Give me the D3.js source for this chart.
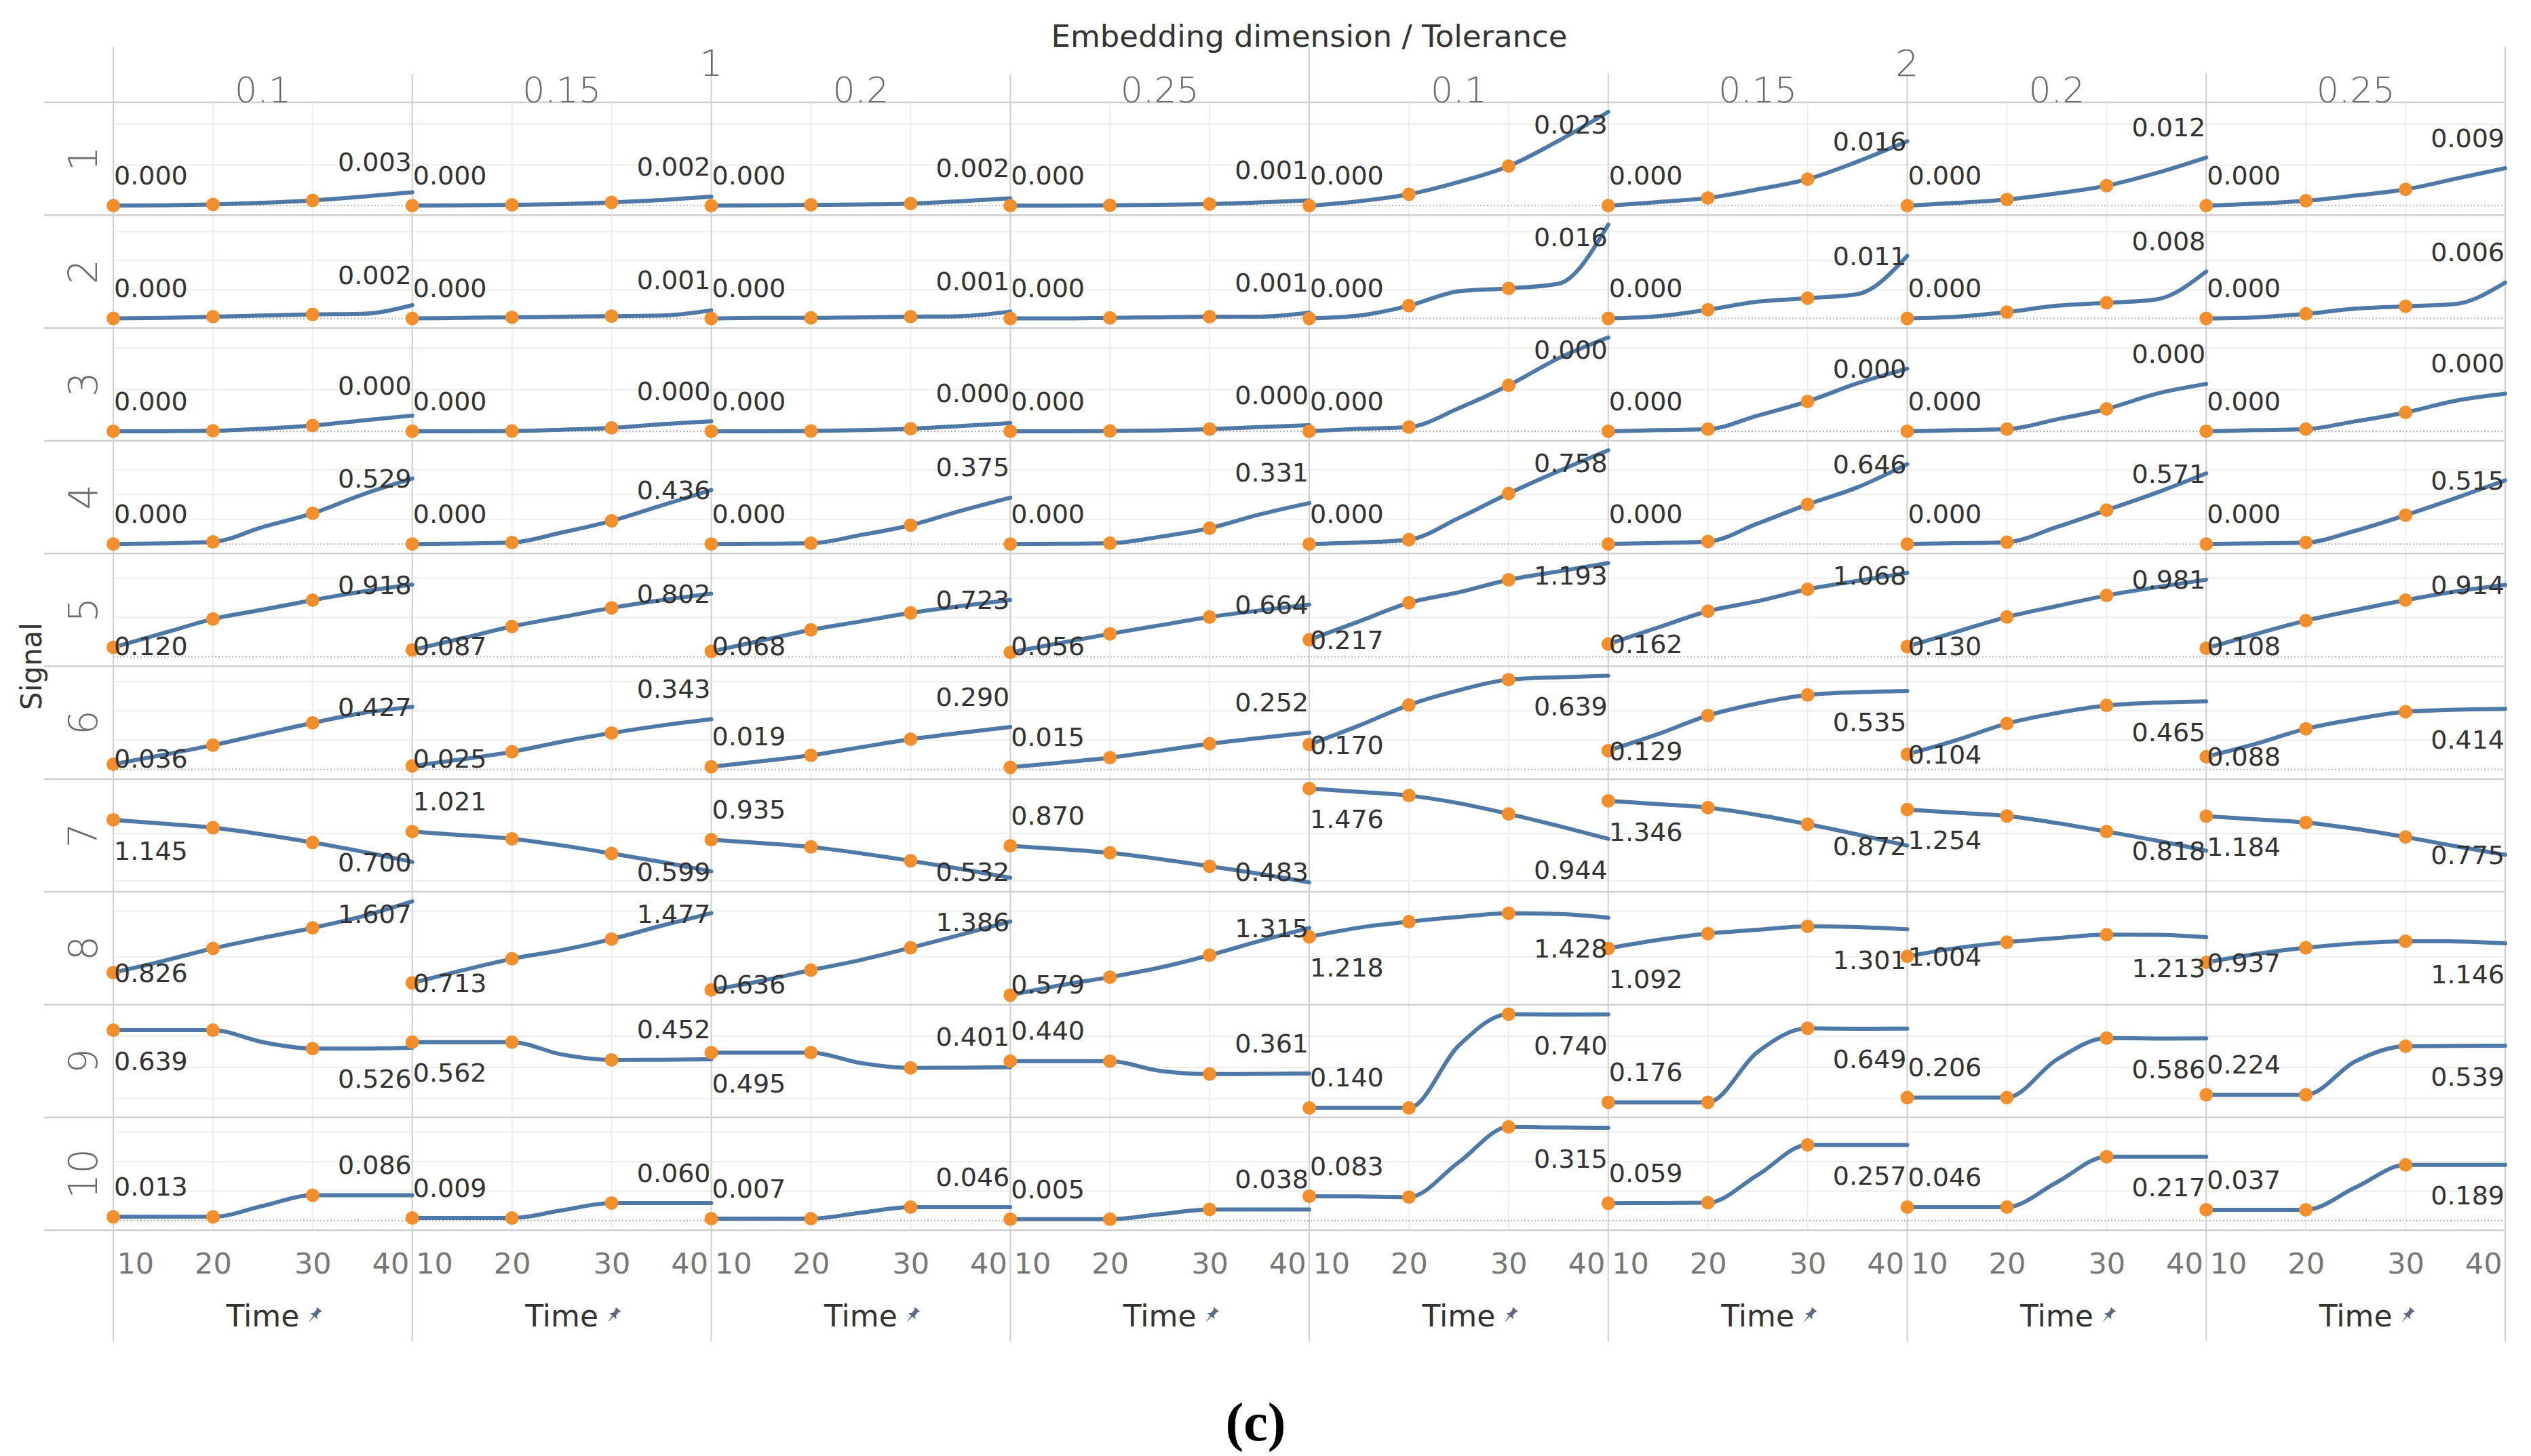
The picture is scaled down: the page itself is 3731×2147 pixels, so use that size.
<!DOCTYPE html>
<html>
<head>
<meta charset="utf-8">
<script src="https://cdn.jsdelivr.net/npm/d3@7"></script>
<style>
  html, body { margin: 0; padding: 0; background: #fff; }
  svg { display: block; }
</style>
</head>
<body>
<svg id="chart"></svg>
<script>
// Columns: embedding dimension x tolerance, rows: signal
const dims = ["1", "2"];
const tolerances = ["0.1", "0.15", "0.2", "0.25"];
const signals = ["1", "2", "3", "4", "5", "6", "7", "8", "9", "10"];
const times = [10, 15, 20, 25, 30, 35, 40];
const markedTimes = [10, 20, 30];
const timeTicks = [10, 20, 30, 40];

// one list per signal, 8 panels (dim 1: tol 0.1..0.25, dim 2: tol 0.1..0.25), values at each time
const signal1 = [
  [0, 0.0001, 0.0003, 0.0007, 0.0013, 0.0022, 0.0033],
  [0, 0.0001, 0.0002, 0.0004, 0.0008, 0.0014, 0.0022],
  [0, 0.0001, 0.0002, 0.0003, 0.0005, 0.0011, 0.0018],
  [0, 0, 0.0001, 0.0002, 0.0004, 0.0008, 0.0013],
  [0, 0.0011, 0.0028, 0.0058, 0.0097, 0.0159, 0.0230],
  [0, 0.0009, 0.0019, 0.0040, 0.0065, 0.0108, 0.0158],
  [0, 0.0007, 0.0015, 0.0030, 0.0049, 0.0080, 0.0118],
  [0, 0.0005, 0.0012, 0.0025, 0.0040, 0.0066, 0.0092]
];
const signal2 = [
  [0, 0.0001, 0.0003, 0.0005, 0.0007, 0.0008, 0.0023],
  [0, 0.0001, 0.0002, 0.0003, 0.0004, 0.0005, 0.0014],
  [0, 0.0001, 0.0001, 0.0002, 0.0003, 0.0004, 0.0012],
  [0, 0, 0.0001, 0.0002, 0.0003, 0.0003, 0.0010],
  [0, 0.0005, 0.0022, 0.0047, 0.0052, 0.0060, 0.0162],
  [0, 0.0004, 0.0015, 0.0029, 0.0035, 0.0042, 0.0108],
  [0, 0.0003, 0.0011, 0.0022, 0.0027, 0.0033, 0.0081],
  [0, 0.0002, 0.0008, 0.0017, 0.0021, 0.0025, 0.0062]
];
const signal3 = [
  [0, 0, 0.000002, 0.000012, 0.000027, 0.000052, 0.000075],
  [0, 0, 0.000001, 0.000007, 0.000016, 0.000034, 0.000048],
  [0, 0, 0.000001, 0.000005, 0.000012, 0.000025, 0.000039],
  [0, 0, 0.000001, 0.000004, 0.000010, 0.000020, 0.000029],
  [0, 0.000012, 0.000020, 0.000110, 0.000220, 0.000350, 0.000450],
  [0, 0.000005, 0.000010, 0.000075, 0.000143, 0.000230, 0.000300],
  [0, 0.000005, 0.000010, 0.000057, 0.000107, 0.000180, 0.000227],
  [0, 0.000005, 0.000010, 0.000048, 0.000090, 0.000146, 0.000180]
];
const signal4 = [
  [0, 0.005, 0.017, 0.137, 0.248, 0.400, 0.529],
  [0, 0.004, 0.012, 0.093, 0.187, 0.312, 0.436],
  [0, 0.002, 0.006, 0.073, 0.152, 0.268, 0.375],
  [0, 0.002, 0.006, 0.058, 0.128, 0.239, 0.331],
  [0, 0.012, 0.035, 0.210, 0.408, 0.589, 0.758],
  [0, 0.008, 0.020, 0.166, 0.320, 0.458, 0.646],
  [0, 0.006, 0.015, 0.137, 0.274, 0.414, 0.571],
  [0, 0.005, 0.012, 0.108, 0.233, 0.370, 0.515]
];
const signal5 = [
  [0.120, 0.300, 0.480, 0.600, 0.720, 0.830, 0.918],
  [0.087, 0.235, 0.386, 0.505, 0.622, 0.720, 0.802],
  [0.068, 0.205, 0.343, 0.450, 0.558, 0.645, 0.723],
  [0.056, 0.175, 0.292, 0.400, 0.506, 0.590, 0.664],
  [0.217, 0.450, 0.687, 0.820, 0.979, 1.086, 1.193],
  [0.162, 0.373, 0.580, 0.708, 0.858, 0.966, 1.068],
  [0.130, 0.320, 0.506, 0.645, 0.780, 0.885, 0.981],
  [0.108, 0.290, 0.460, 0.595, 0.720, 0.830, 0.914]
];
const signal6 = [
  [0.036, 0.100, 0.166, 0.242, 0.318, 0.385, 0.427],
  [0.025, 0.070, 0.121, 0.190, 0.249, 0.300, 0.343],
  [0.019, 0.057, 0.097, 0.152, 0.207, 0.250, 0.290],
  [0.015, 0.047, 0.081, 0.128, 0.176, 0.215, 0.252],
  [0.170, 0.300, 0.440, 0.540, 0.613, 0.629, 0.639],
  [0.129, 0.242, 0.368, 0.451, 0.508, 0.527, 0.535],
  [0.104, 0.202, 0.314, 0.385, 0.437, 0.456, 0.465],
  [0.088, 0.176, 0.278, 0.344, 0.394, 0.408, 0.414]
];
const signal7 = [
  [1.145, 1.104, 1.061, 0.990, 0.905, 0.808, 0.700],
  [1.021, 0.983, 0.944, 0.874, 0.789, 0.699, 0.599],
  [0.935, 0.898, 0.858, 0.790, 0.711, 0.625, 0.532],
  [0.870, 0.835, 0.796, 0.730, 0.653, 0.574, 0.483],
  [1.476, 1.441, 1.402, 1.321, 1.208, 1.080, 0.944],
  [1.346, 1.312, 1.274, 1.196, 1.099, 0.990, 0.872],
  [1.254, 1.220, 1.185, 1.111, 1.021, 0.925, 0.818],
  [1.184, 1.150, 1.115, 1.049, 0.963, 0.866, 0.775]
];
const signal8 = [
  [0.826, 0.953, 1.091, 1.207, 1.316, 1.443, 1.607],
  [0.713, 0.850, 0.977, 1.073, 1.193, 1.340, 1.477],
  [0.636, 0.734, 0.853, 0.964, 1.098, 1.240, 1.386],
  [0.579, 0.687, 0.776, 0.881, 1.017, 1.172, 1.315],
  [1.218, 1.319, 1.384, 1.436, 1.476, 1.468, 1.428],
  [1.092, 1.184, 1.253, 1.295, 1.333, 1.325, 1.301],
  [1.004, 1.096, 1.159, 1.205, 1.242, 1.240, 1.213],
  [0.937, 1.030, 1.098, 1.146, 1.170, 1.168, 1.146]
];
const signal9 = [
  [0.639, 0.639, 0.639, 0.562, 0.521, 0.521, 0.526],
  [0.562, 0.562, 0.562, 0.483, 0.448, 0.449, 0.452],
  [0.495, 0.495, 0.495, 0.428, 0.397, 0.398, 0.401],
  [0.440, 0.440, 0.440, 0.378, 0.357, 0.358, 0.361],
  [0.140, 0.140, 0.140, 0.540, 0.742, 0.739, 0.740],
  [0.176, 0.176, 0.176, 0.500, 0.651, 0.648, 0.649],
  [0.206, 0.206, 0.206, 0.450, 0.588, 0.585, 0.586],
  [0.224, 0.224, 0.224, 0.440, 0.536, 0.538, 0.539]
];
const signal10 = [
  [0.013, 0.013, 0.013, 0.050, 0.086, 0.086, 0.086],
  [0.009, 0.009, 0.009, 0.035, 0.060, 0.060, 0.060],
  [0.007, 0.007, 0.007, 0.027, 0.046, 0.046, 0.046],
  [0.005, 0.005, 0.005, 0.022, 0.038, 0.038, 0.038],
  [0.083, 0.082, 0.080, 0.198, 0.318, 0.316, 0.315],
  [0.059, 0.060, 0.061, 0.155, 0.257, 0.257, 0.257],
  [0.046, 0.046, 0.046, 0.130, 0.217, 0.217, 0.217],
  [0.037, 0.037, 0.037, 0.113, 0.189, 0.189, 0.189]
];
const signalValues = [signal1, signal2, signal3, signal4, signal5, signal6, signal7, signal8, signal9, signal10];

// ---- layout
const width = 3731, height = 2147;
const gridLeft = 167, gridRight = 3693, gridTop = 151, gridBottom = 1814;
const lineColor = "#4e79a7", dotColor = "#f28e2b";
const sepColor = "#cfcfcf", gridColor = "#ededed";
const font = "'DejaVu Sans', Verdana, sans-serif";

const svg = d3.select("#chart").attr("width", width).attr("height", height)
  .style("font-family", font);

const panels = dims.flatMap(d => tolerances.map(t => ({dim: d, tol: t})));
const colScale = d3.scaleBand().domain(d3.range(panels.length)).range([gridLeft, gridRight]);
const rowScale = d3.scaleBand().domain(signals).range([gridTop, gridBottom]);
const bw = colScale.bandwidth(), bh = rowScale.bandwidth();

const gridG = svg.append("g");
const sepG = svg.append("g");
const markG = svg.append("g");
const labelG = svg.append("g");

// vertical gridlines at t = 20, 30 in every pane
panels.forEach((p, j) => {
  const xs = d3.scaleLinear().domain([10, 40]).range([colScale(j), colScale(j) + bw]);
  gridG.selectAll(null).data([20, 30]).enter().append("line")
    .attr("x1", d => xs(d)).attr("x2", d => xs(d))
    .attr("y1", gridTop).attr("y2", gridBottom)
    .attr("stroke", gridColor).attr("stroke-width", 2);
});

// separators
sepG.selectAll(null).data(d3.range(signals.length + 1)).enter().append("line")
  .attr("x1", 65).attr("x2", gridRight)
  .attr("y1", i => gridTop + i * bh).attr("y2", i => gridTop + i * bh)
  .attr("stroke", sepColor).attr("stroke-width", 2.5);
sepG.selectAll(null).data(d3.range(panels.length + 1)).enter().append("line")
  .attr("x1", j => gridLeft + j * bw).attr("x2", j => gridLeft + j * bw)
  .attr("y1", j => (j % 4 === 0) ? 69 : 109).attr("y2", 1978)
  .attr("stroke", sepColor).attr("stroke-width", 2);

const fmt = d3.format(".3f");

signals.forEach((s, i) => {
  const rowTop = rowScale(s), rowBottom = rowTop + bh;
  const rowVals = signalValues[i].flat();
  let lo = d3.min(rowVals);
  const hi = d3.max(rowVals);
  if (lo < 0.1) lo = 0;
  const y = d3.scaleLinear().domain([lo, hi]).range([rowBottom - 14, rowTop + 14]);

  // faint horizontal gridlines
  const ticks = y.ticks(3).filter(v => v !== 0 && v >= lo && v <= hi * 1.04);
  gridG.selectAll(null).data(ticks).enter().append("line")
    .attr("x1", gridLeft).attr("x2", gridRight)
    .attr("y1", d => y(d)).attr("y2", d => y(d))
    .attr("stroke", gridColor).attr("stroke-width", 2);
  if (lo === 0) {
    gridG.append("line")
      .attr("x1", gridLeft).attr("x2", gridRight)
      .attr("y1", y(0)).attr("y2", y(0))
      .attr("stroke", "#b5b5b5").attr("stroke-width", 2)
      .attr("stroke-dasharray", "2,3");
  }

  // row header
  labelG.append("text")
    .attr("transform", `translate(122,${rowTop + bh / 2}) rotate(-90)`)
    .attr("text-anchor", "middle").attr("dy", "0.36em")
    .style("font-size", "58px").style("font-weight", 200).attr("fill", "#6b6b6b")
    .text(s);

  panels.forEach((p, j) => {
    const x0 = colScale(j), x1 = x0 + bw;
    const xs = d3.scaleLinear().domain([10, 40]).range([x0, x1]);
    const series = times.map((t, k) => ({t: t, v: signalValues[i][j][k]}));

    const line = d3.line().x(d => xs(d.t)).y(d => y(d.v)).curve(d3.curveMonotoneX);
    const path = markG.append("path").datum(series)
      .attr("d", line).attr("fill", "none")
      .attr("stroke", lineColor).attr("stroke-width", 6)
      .attr("stroke-linejoin", "round").attr("stroke-linecap", "round");

    markG.selectAll(null).data(series.filter(d => markedTimes.includes(d.t))).enter()
      .append("circle")
      .attr("cx", d => xs(d.t)).attr("cy", d => y(d.v)).attr("r", 10)
      .attr("fill", dotColor);

    // sample the drawn line so labels can avoid it
    const node = path.node();
    const len = node.getTotalLength();
    const pts = [];
    for (let l = 0; l <= len; l += 3) pts.push(node.getPointAtLength(l));

    const first = series[0], last = series[series.length - 1];
    placeLabel(fmt(first.v), x0 + 1, "start", y(first.v), rowTop, rowBottom, pts);
    placeLabel(fmt(last.v), x1 - 1, "end", y(last.v), rowTop, rowBottom, pts);
  });
});

// label above the point, else below, else centred on it (kept inside the pane)
function placeLabel(txt, ax, anchor, py, top, bottom, pts) {
  const t = labelG.append("text")
    .attr("x", ax).attr("text-anchor", anchor)
    .attr("dy", "0.36em")
    .style("font-size", "38px").attr("fill", "#333")
    .text(txt);
  const w = t.node().getComputedTextLength();
  const bx0 = anchor === "start" ? ax : ax - w;
  const bx1 = bx0 + w;
  const padL = anchor === "start" ? 10 : 45, padR = anchor === "start" ? 30 : 10;
  const hits = c => pts.some(p => p.x >= bx0 - padL && p.x <= bx1 + padR && p.y >= c - 26 && p.y <= c + 26);
  const cMin = top + 32, cMax = bottom - 30;
  const above = py - 45, below = py + 45;
  let c;
  if (above >= cMin && !hits(above)) c = above;
  else if (below <= cMax && !hits(below)) c = below;
  else c = Math.max(cMin, Math.min(cMax, py));
  t.attr("y", c);
}

// column headers
svg.append("text")
  .attr("x", (gridLeft + gridRight) / 2).attr("y", 53).attr("dy", "0.36em")
  .attr("text-anchor", "middle").style("font-size", "45px").attr("fill", "#333")
  .text("Embedding dimension / Tolerance");
dims.forEach((d, k) => {
  svg.append("text")
    .attr("x", gridLeft + (k * 4 + 2) * bw).attr("y", 93).attr("dy", "0.36em")
    .attr("text-anchor", "middle").style("font-size", "54px").style("font-weight", 200)
    .attr("fill", "#6b6b6b").text(d);
});
panels.forEach((p, j) => {
  svg.append("text")
    .attr("x", colScale(j) + bw / 2).attr("y", 132).attr("dy", "0.36em")
    .attr("text-anchor", "middle").style("font-size", "52px").style("font-weight", 200)
    .attr("fill", "#6b6b6b").text(p.tol);
});

// y title
svg.append("text")
  .attr("transform", `translate(46,${(gridTop + gridBottom) / 2}) rotate(-90)`)
  .attr("text-anchor", "middle").attr("dy", "0.36em")
  .style("font-size", "42px").attr("fill", "#333")
  .text("Signal");

// x axes
panels.forEach((p, j) => {
  const xs = d3.scaleLinear().domain([10, 40]).range([colScale(j), colScale(j) + bw]);
  const ax = svg.append("g")
    .attr("transform", `translate(0,${gridBottom})`)
    .call(d3.axisBottom(xs).tickValues(timeTicks).tickSize(0).tickPadding(33));
  ax.select(".domain").remove();
  ax.selectAll("text")
    .attr("font-family", font).attr("font-size", 43).attr("fill", "#777");
  ax.selectAll(".tick text")
    .filter(d => d === 10).attr("text-anchor", "start").attr("x", 5);
  ax.selectAll(".tick text")
    .filter(d => d === 40).attr("text-anchor", "end").attr("x", -5);

  const cx = colScale(j) + bw / 2;
  const tt = svg.append("text")
    .attr("x", cx).attr("y", 1956).attr("text-anchor", "middle")
    .style("font-size", "44px").attr("fill", "#333").text("Time");
  const tw = tt.node().getComputedTextLength();
  // small pin icon next to the title
  svg.append("g")
    .attr("transform", `translate(${cx + tw / 2 + 22},1940) rotate(40)`)
    .append("path")
    .attr("d", "M-5,-12 L5,-12 L3.5,-9 L3,-9 L3,-3 L7,1 L-7,1 L-3,-3 L-3,-9 L-3.5,-9 Z M-1,1 L1,1 L0.4,11 L-0.4,11 Z")
    .attr("fill", "#5d6b80");
});

// panel caption
svg.append("text")
  .attr("x", 1851).attr("y", 2096).attr("dy", "0.35em")
  .attr("text-anchor", "middle")
  .style("font-family", "'Liberation Serif', 'Times New Roman', serif")
  .style("font-size", "80px").style("font-weight", "bold").attr("fill", "#000")
  .text("(c)");
</script>
</body>
</html>
